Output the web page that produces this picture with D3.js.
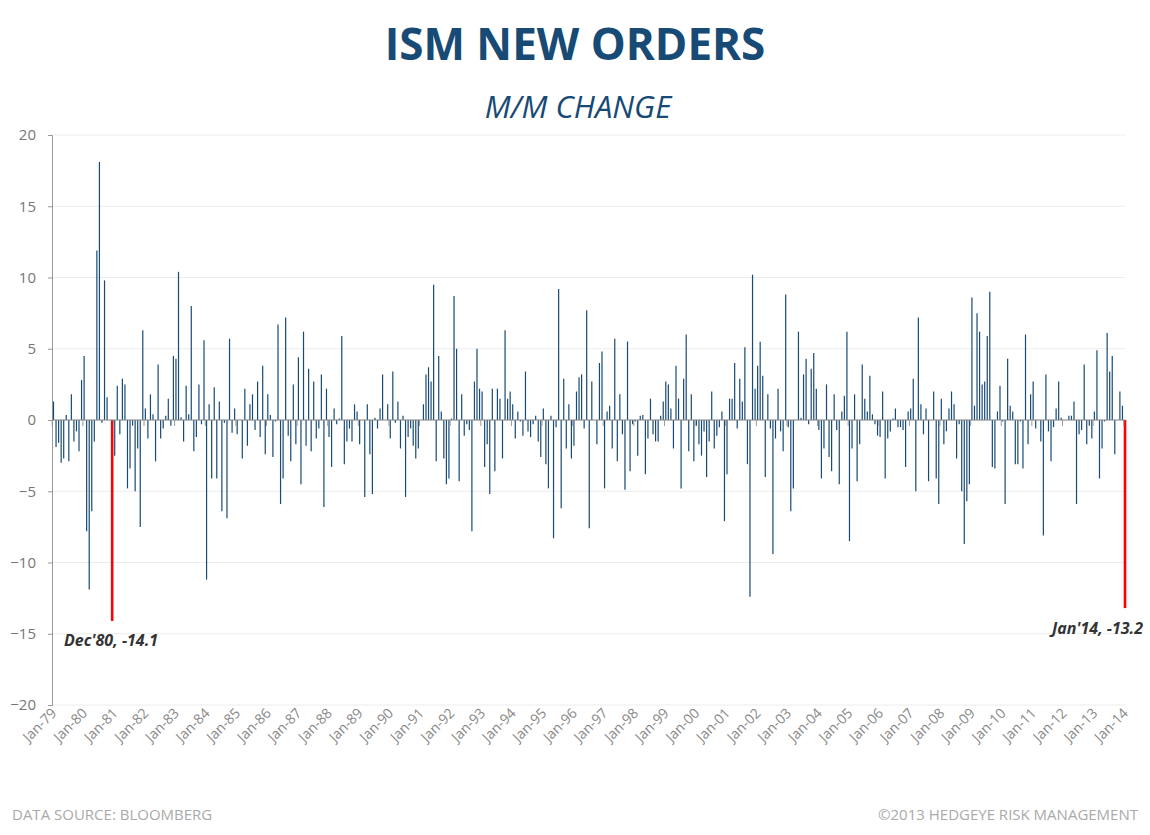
<!DOCTYPE html>
<html>
<head>
<meta charset="utf-8">
<script src="https://cdn.jsdelivr.net/npm/d3@7"></script>
<style>
body { margin: 0; background: #fff; }
svg { font-family: "Liberation Sans Narrow", "Open Sans", sans-serif; }
</style>
</head>
<body>
<svg id="chart" width="1150" height="835"></svg>
<script>
// monthly m/m change in ISM new orders, Jan-79 .. Jan-14
var seg79 = [1.3,-1.9,-1.6,-3.0,-2.7,0.35,-2.9,1.8,-1.5,-0.8,-2.2,2.8,4.5,-7.8,-11.9,-6.4,-1.5,11.9,18.1,-0.2,9.8,1.6,0,-14.1];
var seg81 = [-2.5,2.4,-1.0,2.9,2.5,-4.8,-3.4,-0.4,-5.0,-2.0,-7.5,6.3,0.8,-1.3,1.8,0.4,-2.9,3.9,-1.3,-0.6,0.3,1.5,-0.4,4.5,4.3,10.4,0.2,-1.5,2.4,0.4,8.0,-2.2,-1.2,2.5,-0.3,5.6,-11.2,1.1,-4.1,2.3,-4.1,1.3,-6.4,-0.2,-6.9,5.7];
var seg85 = [-0.9,0.8,-1.0,0,-2.7,2.2,-1.8,1.1,1.8,-0.7,2.7,-1.2,3.8,-2.4,1.8,0.35,-2.6,-0.1,6.7,-5.9,-4.1,7.2,-1.1,-2.9,2.5,-1.7,4.4,-4.5,6.2,-1.8,3.6,-2.2,2.7,-1.3,-0.6,3.2,-6.1,2.2,-1.2,-3.3,0.8,-0.3,0.1,5.9,-3.1,-1.5,-0.6,-1.5,1.1,0.6,-1.7,0,-5.4,1.1,-2.4,-5.2,0.15,-0.6,0.8,3.2,0,1.1,-1.3,3.4,-0.2,1.3,-2.0,0.3,-5.4,-1.2,-0.6];
var seg91 = [-1.8,-2.7,-2.0,0,1.1,3.2,3.7,2.7,9.5,-2.9,4.5,0.6,-2.7,-4.5,-4.1,0.1,8.7,5.0,-4.3,1.8,-1.1,-0.3,-0.7,-7.8,2.7,5.0,2.2,2.0,-3.3,-1.7,-5.2,2.2,-3.6,2.2,1.5,-2.7,6.3,1.5,2.0,1.1,-1.3,0.6,-0.1,-1.1,3.4,-0.8,-1.2,-0.3,0.3,-1.5,-2.6,0.8,-3.1,-4.8,0.3,-8.3,-0.5,9.2,-6.2,2.9,-2.0,1.1,-2.7,-1.8,2.0,3.0,3.2,-0.6,7.7,-7.6];
var seg96 = [2.7,0,-1.7,4.0,4.8,-4.8,0.6,1.0,-2.0,5.7,-2.9,1.8,-1.0,-4.9,5.5,-3.6,-0.3,-0.1,-2.5,0.3,0.35,-3.8,-1.3,1.5,-1.0,-1.5,-1.5,0.3,1.3,2.7,2.5,0.8,-2.0,3.8,1.5,-4.8,2.9,6.0,-2.2,1.8,-2.9,-0.4,-1.7,-2.5,-0.8,-4.0,-1.5,2.0,-2.0,-1.1,-0.5,0.6,-7.1,-3.8,1.5,1.5,4.0,-0.6,2.9,1.3,5.1,-3.1,-12.4,10.2,2.2,3.8,5.5,3.1,-4.0,1.8,-0.6];
var seg02 = [-9.4,-1.3,2.2,-0.8,-2.2,8.8,-0.5,-6.4,-4.8,0,6.2,0.15,3.2,4.3,-0.3,3.6,4.7,2.2,-0.7,-4.1,-2.0,2.5,-2.6,-3.6,1.8,-0.7,-4.5,0.6,1.7,6.2,-8.5,-2.0,1.8,-4.3,-1.7,3.9,1.5,0.6,3.1,0.4,-0.3,-1.1,-1.2,2.0,-4.1,-1.3,-0.8,0.1,0.8,-0.5,-0.5,-0.7,-3.3,0.6,0.8,2.9,-5.0,7.2,1.1,-1.0,0.8,-4.3,0,2.0,-4.1,-5.9,1.5,-1.7,-0.8,0.8];
var seg08 = [2.0,1.1,-2.7,-0.3,-5.0,-8.7,-5.7,-4.5,8.6,1.0,7.5,6.2,2.5,2.7,5.9,9.0,-3.3,-3.4,0.6,2.4,-0.1,-5.9,4.3,1.0,0.6,-3.1,-3.1,-0.1,-3.4,6.0,-1.7,1.8,2.7,-0.6,0,-1.5,-8.1,3.2,-0.8,-2.9,-0.5,0.8,2.7,0.15,0,0,0.3,0.3,1.3,-5.9,-1.0,-0.7,3.9,-1.7,-0.4,-1.3,0.6,4.9,-4.1,-2.0,-0.1,6.1,3.4,4.5,-2.4,0,2.0,1.0,-13.2];
var yTicks = [20,15,10,5,0,-5,-10,-15,-20];
var years = d3.range(79, 115).map(function(y) { return 'Jan-' + String(y % 100).padStart(2, '0'); });
var highlights = [{label: "Dec'80, -14.1"}, {label: "Jan'14, -13.2"}];

var values = [].concat(seg79, seg81, seg85, seg91, seg96, seg02, seg08);
var n = values.length;

var svg = d3.select('#chart');
var left = 52, right = 1125, blue = '#174a74';

var x = d3.scaleLinear().domain([0, n - 1]).range([left + 1.5, right]);
var y = d3.scaleLinear().domain([-20, 20]).range([705, 135]);

// titles
svg.append('text').attr('x', 575).attr('y', 60).attr('text-anchor', 'middle')
  .style('font-size', '44px').style('font-weight', 'bold').style('fill', blue)
  .text('ISM NEW ORDERS');
svg.append('text').attr('x', 578).attr('y', 118).attr('text-anchor', 'middle')
  .style('font-size', '31px').style('font-style', 'italic').style('fill', blue)
  .text('M/M CHANGE');

// grid + y axis
svg.selectAll('.grid').data(yTicks).enter().append('line')
  .attr('x1', left).attr('x2', right)
  .attr('y1', function(d) { return y(d); }).attr('y2', function(d) { return y(d); })
  .style('stroke', '#ececec');
var yAxis = svg.append('g').attr('transform', 'translate(' + left + ',0)')
  .call(d3.axisLeft(y).tickValues(yTicks).tickSize(4).tickPadding(12));
yAxis.select('.domain').style('stroke', '#999');
yAxis.selectAll('line').style('stroke', '#999');
yAxis.selectAll('text').style('fill', '#777').style('font-size', '15px')
  .style('font-family', '"Open Sans", sans-serif');

// bars
svg.selectAll('.bar').data(values).enter().append('line')
  .attr('x1', function(d, i) { return x(i); }).attr('x2', function(d, i) { return x(i); })
  .attr('y1', y(0)).attr('y2', function(d) { return y(d); })
  .style('stroke', function(d, i) { return (i == 23 || i == n - 1) ? '#f00' : blue; })
  .style('stroke-width', function(d, i) { return (i == 23 || i == n - 1) ? 2.6 : 1.2; });

// zero line and year ticks
svg.append('line').attr('x1', left).attr('x2', right).attr('y1', y(0)).attr('y2', y(0))
  .style('stroke', '#888').style('stroke-width', 1);
svg.selectAll('.yt').data(years).enter().append('line')
  .attr('x1', function(d, i) { return x(Math.min(i * 12, n - 1)) - 1.3; })
  .attr('x2', function(d, i) { return x(Math.min(i * 12, n - 1)) - 1.3; })
  .attr('y1', y(0)).attr('y2', y(0) + 6).style('stroke', '#999');

// x labels
svg.selectAll('.xl').data(years).enter().append('text')
  .attr('transform', function(d, i) {
    return 'translate(' + (x(Math.min(i * 12, n - 1)) + 4) + ',714) rotate(-45)';
  })
  .attr('text-anchor', 'end')
  .style('font-size', '14px').style('fill', '#888')
  .style('font-family', '"Open Sans", sans-serif')
  .text(function(d) { return d; });

// annotations
svg.append('text').attr('x', 64).attr('y', 646)
  .style('font-size', '16px').style('font-weight', 'bold').style('font-style', 'italic')
  .style('fill', '#333').style('font-family', '"Open Sans", sans-serif')
  .text(highlights[0].label);
svg.append('text').attr('x', 1143).attr('y', 634).attr('text-anchor', 'end')
  .style('font-size', '16px').style('font-weight', 'bold').style('font-style', 'italic')
  .style('fill', '#333').style('font-family', '"Open Sans", sans-serif')
  .text(highlights[1].label);

// footer
svg.append('text').attr('x', 12).attr('y', 820)
  .style('font-size', '15px').style('fill', '#aaa')
  .style('font-family', '"Open Sans", sans-serif')
  .text('DATA SOURCE:  BLOOMBERG');
svg.append('text').attr('x', 1138).attr('y', 820).attr('text-anchor', 'end')
  .style('font-size', '15px').style('fill', '#aaa')
  .style('font-family', '"Open Sans", sans-serif')
  .text('\u00a92013 HEDGEYE RISK MANAGEMENT');
</script>
</body>
</html>
